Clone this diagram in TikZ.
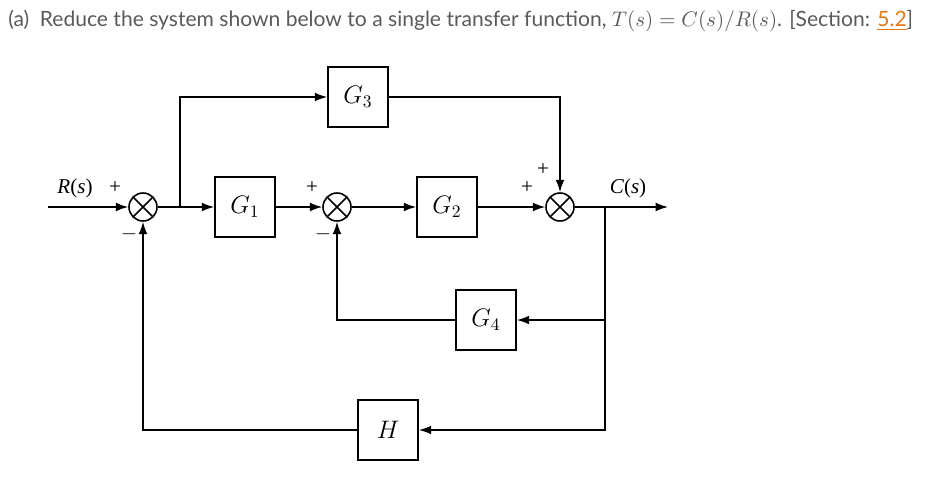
\documentclass[tikz,border=0pt]{standalone}
\usepackage{fontspec}
\setmainfont{Lato}
\newfontfamily\tm{Liberation Serif}
\usetikzlibrary{arrows.meta}
\definecolor{tgray}{RGB}{90,90,90}
\definecolor{lnk}{RGB}{230,120,20}
\begin{document}
\begin{tikzpicture}[x=0.02cm,y=-0.02cm,
  blk/.style={draw,line width=1pt,minimum width=1.2cm,minimum height=1.2cm,inner sep=0pt,font=\tm\Large},
  sum/.style={draw,line width=0.9pt,circle,minimum size=0.56cm,inner sep=0pt,path picture={\draw[line width=0.9pt] (path picture bounding box.north west)--(path picture bounding box.south east) (path picture bounding box.south west)--(path picture bounding box.north east);}},
  ar/.style={line width=0.8pt,-{Latex[length=7pt,width=5pt]}},
  sg/.style={font=\tm\large}]
\useasboundingbox (0,0) rectangle (946,490);
\node[anchor=west,text=tgray,inner sep=0pt] (title) at (8,21) {\resizebox{18.1cm}{!}{(a)\enspace Reduce the system shown below to a single transfer function, $T(s)=C(s)/R(s)$. [Section: \textcolor{lnk}{\underline{5.2}}]}};
\node[sum] (s1) at (143,207) {};
\node[sum] (s2) at (337,207) {};
\node[sum] (s3) at (560,207) {};
\node[blk] (g1) at (245,207) {$G_1$};
\node[blk] (g2) at (447,207) {$G_2$};
\node[blk] (g3) at (358,97) {$G_3$};
\node[blk] (g4) at (486,320) {$G_4$};
\node[blk] (h) at (388,430) {$H$};
\coordinate (in) at (48,207);
\coordinate (out) at (668,207);
\coordinate (br) at (180,207);
\coordinate (tap) at (605,207);
\draw[ar] (in) -- (s1);
\draw[ar] (s1) -- (g1);
\draw[ar] (g1) -- (s2);
\draw[ar] (s2) -- (g2);
\draw[ar] (g2) -- (s3);
\draw[ar] (s3) -- (out);
\draw[ar] (br) |- (g3);
\draw[ar] (g3.east) -| (s3);
\draw[ar] (tap) |- (g4);
\draw[ar] (tap) |- (h);
\draw[ar] (g4) -| (s2);
\draw[ar] (h) -| (s1);
\node[sg] (rs) at (75,188) {\textit{R}(\textit{s})};
\node[sg] (cs) at (628,188) {\textit{C}(\textit{s})};
\node[sg] (p1) at (115,188) {+};
\node[sg] (m1) at (129,234) {$-$};
\node[sg] (p2) at (312,188) {+};
\node[sg] (m2) at (323,234) {$-$};
\node[sg] (p3) at (527,188) {+};
\node[sg] (p4) at (543,170) {+};
\end{tikzpicture}
\end{document}
